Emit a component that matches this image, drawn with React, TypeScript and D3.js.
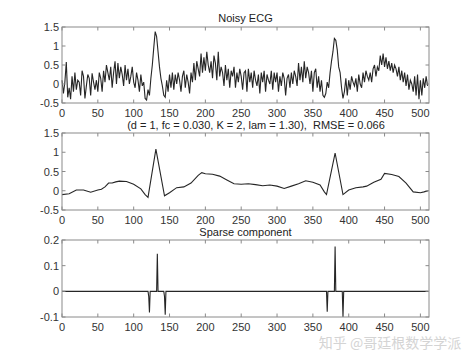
import React from "react";
import * as d3 from "d3";

const W = 474;
const H = 355;

// Noisy ECG, sampled every NOISY_STEP samples starting at 0
const NOISY_STEP = 2;
const noisy: number[] = [
  0.1, -0.25, 0.05, 0.58, -0.35, -0.1, -0.4, 0.2, -0.2, 0.3,
  -0.15, 0.1, 0.05, -0.3, 0.35, 0.2, -0.38, -0.05, 0.25, 0.15,
  -0.3, 0.28, 0.05, -0.15, 0.1, -0.2, 0.3, 0.15, -0.2, 0.35,
  0.05, 0.5, 0.3, 0.1, 0.45, -0.1, 0.3, 0.6, 0.0, 0.55,
  0.15, 0.45, 0.25, -0.05, 0.5, 0.1, 0.4, 0.0, 0.2, 0.45,
  0.05, -0.1, 0.3, 0.1, -0.2, 0.25, -0.05, 0.05, -0.38, -0.42,
  -0.15, -0.3, 0.15, 0.5, 0.95, 1.38, 1.25, 0.85, 0.45, 0.15,
  -0.05, -0.3, -0.35, 0.1, -0.2, 0.25, -0.1, 0.3, -0.15, 0.25,
  0.0, 0.3, 0.1, -0.2, 0.2, 0.35, -0.1, 0.25, 0.05, -0.25,
  0.3, 0.05, 0.55, 0.1, 0.6, 0.4, 0.2, 0.8, 0.3, 0.7,
  0.35, 0.85, 0.5, 0.3, 0.6, 0.15, 0.75, 0.55, 0.1, 0.85,
  0.2, 0.45, 0.3, -0.05, 0.5, 0.1, 0.4, -0.1, 0.35, 0.2,
  0.45, -0.1, 0.3, 0.05, 0.4, 0.2, -0.15, 0.3, 0.35, -0.2,
  0.4, 0.05, 0.3, -0.1, 0.35, 0.1, -0.05, 0.25, -0.25, 0.3,
  0.05, 0.35, -0.2, 0.25, 0.1, 0.0, 0.35, -0.15, 0.3, 0.05,
  0.3, -0.2, 0.2, -0.05, 0.3, 0.15, -0.3, 0.15, 0.25, -0.1,
  0.3, 0.0, 0.35, 0.2, -0.05, 0.55, 0.1, 0.45, 0.05, 0.6,
  0.15, 0.45, 0.3, 0.0, 0.35, -0.2, 0.3, 0.4, -0.1, 0.2,
  -0.2, 0.1, -0.3, -0.35, -0.25, 0.05, -0.1, 0.3, 0.6, 0.85,
  1.2, 1.15, 0.9, 0.45, 0.3, -0.1, -0.38, -0.2, 0.15, -0.3,
  0.1, -0.15, 0.2, 0.05, -0.05, 0.15, -0.2, 0.25, 0.0, -0.1,
  0.3, 0.05, 0.35, 0.2, 0.1, 0.3, 0.05, 0.4, 0.5, 0.2,
  0.45, 0.35, 0.75, 0.5, 0.8, 0.45, 0.7, 0.4, 0.6, 0.35,
  0.55, 0.3, 0.5, 0.4, 0.2, 0.45, 0.1, 0.35, 0.05, 0.3,
  -0.05, 0.25, -0.15, 0.1, 0.0, -0.2, 0.2, -0.3, 0.25, -0.4,
  0.1, -0.3, 0.15, -0.1, 0.2, -0.05,
];

// Denoised ECG (estimated)
const cleanX: number[] = [
  0, 10, 20, 30, 40, 50, 55, 60, 65, 70, 75, 80, 90, 100, 110, 116, 120,
  131, 143, 150, 160, 170, 180, 190, 195, 200, 210, 220, 230, 240, 250, 260,
  270, 280, 290, 300, 310, 320, 330, 340, 350, 360, 366, 369, 381, 392, 400,
  410, 420, 425, 435, 445, 450, 460, 470, 480, 490, 500, 505, 511,
];
const cleanY: number[] = [
  -0.1, -0.08, 0.02, 0.02, -0.04, 0.02, 0.04, 0.1, 0.2, 0.2, 0.23, 0.25, 0.24, 0.17, 0.05, -0.1, -0.17,
  1.08, -0.13, -0.05, 0.08, 0.1, 0.2, 0.4, 0.47, 0.44, 0.43, 0.38, 0.28, 0.18, 0.17, 0.18,
  0.16, 0.13, 0.15, 0.12, 0.06, 0.12, 0.18, 0.26, 0.22, 0.15, -0.03, -0.1, 0.98, -0.1, 0.02,
  0.08, 0.1, 0.12, 0.22, 0.3, 0.45, 0.42, 0.37, 0.2, -0.03, -0.05, -0.03, 0.0,
];

// Sparse component
const sparseX: number[] = [0, 120, 121, 122, 123, 132, 133, 134, 142, 143, 144, 145, 369, 370, 371, 380, 381, 382, 391, 392, 393, 511];
const sparseY: number[] = [0, 0, -0.02, -0.082, 0, 0, 0.146, 0, 0, -0.02, -0.091, 0, 0, -0.079, 0, 0, 0.175, 0, 0, -0.1, 0, 0];

const xTicks = [0, 50, 100, 150, 200, 250, 300, 350, 400, 450, 500];
const yTicksEcg = [-0.5, 0, 0.5, 1, 1.5];
const yTicksSparse = [-0.1, 0, 0.1, 0.2];

const titles = [
  "Noisy ECG",
  "(d = 1, fc = 0.030, K = 2, lam = 1.30),  RMSE = 0.066",
  "Sparse component",
];

const FONT = "'Liberation Sans', Arial, sans-serif";
const LEFT = 62;
const RIGHT = 429;

type Panel = {
  top: number;
  bottom: number;
  yDomain: [number, number];
  yTicks: number[];
  xs: number[];
  ys: number[];
  title: string;
  titleX: number;
  titleY: number;
};

const panels: Panel[] = [
  {
    top: 27, bottom: 103, yDomain: [-0.5, 1.5], yTicks: yTicksEcg,
    xs: noisy.map((_, i) => i * NOISY_STEP), ys: noisy,
    title: titles[0], titleX: 245.5, titleY: 22,
  },
  {
    top: 133, bottom: 210, yDomain: [-0.5, 1.5], yTicks: yTicksEcg,
    xs: cleanX, ys: cleanY,
    title: titles[1], titleX: 256, titleY: 129,
  },
  {
    top: 240, bottom: 317, yDomain: [-0.1, 0.2], yTicks: yTicksSparse,
    xs: sparseX, ys: sparseY,
    title: titles[2], titleX: 245.5, titleY: 236,
  },
];

const fmt = (v: number) => (Math.abs(v) < 1e-9 ? "0" : String(v));

function PanelView({ p }: { p: Panel }) {
  const x = d3.scaleLinear().domain([0, 512]).range([LEFT, RIGHT]);
  const y = d3.scaleLinear().domain(p.yDomain).range([p.bottom, p.top]);
  const line = d3
    .line<number>()
    .x((_, i) => x(p.xs[i]))
    .y((d) => y(d));
  const tl = 3.5;
  const axisColor = "#8a8a8a";
  return (
    <g>
      <text
        x={p.titleX}
        y={p.titleY}
        textAnchor="middle"
        fontSize={11}
        fontFamily={FONT}
        fill="#222"
        style={{ whiteSpace: "pre" }}
      >
        {p.title}
      </text>
      <path d={line(p.ys) || ""} fill="none" stroke="#262626" strokeWidth={1.1} />
      <rect
        x={LEFT}
        y={p.top}
        width={RIGHT - LEFT}
        height={p.bottom - p.top}
        fill="none"
        stroke={axisColor}
        strokeWidth={1}
      />
      {xTicks.map((t) => (
        <g key={"x" + t}>
          <line x1={x(t)} x2={x(t)} y1={p.bottom} y2={p.bottom - tl} stroke={axisColor} />
          <line x1={x(t)} x2={x(t)} y1={p.top} y2={p.top + tl} stroke={axisColor} />
          <text
            x={x(t)}
            y={p.bottom + 14}
            textAnchor="middle"
            fontSize={11}
            fontFamily={FONT}
            fill="#333"
          >
            {fmt(t)}
          </text>
        </g>
      ))}
      {p.yTicks.map((t) => (
        <g key={"y" + t}>
          <line x1={LEFT} x2={LEFT + tl} y1={y(t)} y2={y(t)} stroke={axisColor} />
          <line x1={RIGHT} x2={RIGHT - tl} y1={y(t)} y2={y(t)} stroke={axisColor} />
          <text
            x={LEFT - 3}
            y={y(t) + 4}
            textAnchor="end"
            fontSize={11}
            fontFamily={FONT}
            fill="#333"
          >
            {fmt(t)}
          </text>
        </g>
      ))}
    </g>
  );
}

export default function App() {
  return (
    <svg
      width={W}
      height={H}
      viewBox={`0 0 ${W} ${H}`}
      style={{ position: "absolute", left: 0, top: 0, background: "#fff" }}
    >
      <rect x={0} y={0} width={W} height={H} fill="#fff" />
      {panels.map((p, i) => (
        <PanelView key={i} p={p} />
      ))}
      <text
        x={390}
        y={348}
        textAnchor="middle"
        fontSize={14}
        fontFamily="'Noto Sans CJK SC', sans-serif"
        fill="#d4d4d4"
      >
        知乎 @哥廷根数学学派
      </text>
    </svg>
  );
}
